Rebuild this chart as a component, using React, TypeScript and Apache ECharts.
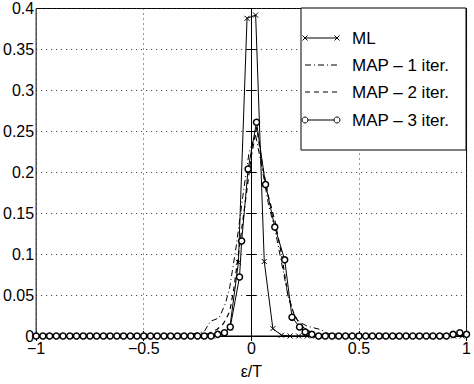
import React, { useEffect, useRef } from "react";
import * as echarts from "echarts";

// ---- data ----
const xTicks = [-1, -0.5, 0, 0.5, 1];
const yTicks = [0, 0.05, 0.1, 0.15, 0.2, 0.25, 0.3, 0.35, 0.4];

const mlData: [number, number][] = [
  [-0.98, 0], [-0.94, 0], [-0.9, 0], [-0.86, 0], [-0.82, 0], [-0.78, 0], [-0.74, 0], [-0.7, 0],
  [-0.66, 0], [-0.62, 0], [-0.58, 0], [-0.54, 0], [-0.5, 0], [-0.46, 0], [-0.42, 0], [-0.38, 0],
  [-0.34, 0], [-0.3, 0], [-0.26, 0], [-0.22, 0], [-0.18, 0], [-0.14, 0.002], [-0.1, 0.01],
  [-0.06, 0.09], [-0.02, 0.388], [0.02, 0.392], [0.06, 0.091], [0.1, 0.009], [0.14, 0.001],
  [0.18, 0], [0.22, 0], [0.26, 0], [0.3, 0], [0.34, 0], [0.38, 0], [0.42, 0], [0.46, 0], [0.5, 0],
  [0.54, 0], [0.58, 0], [0.62, 0], [0.66, 0], [0.7, 0], [0.74, 0], [0.78, 0], [0.82, 0], [0.86, 0],
  [0.9, 0], [0.94, 0], [0.98, 0],
];

const map1Data: [number, number][] = [
  [-1, 0], [-0.3125, 0], [-0.28, 0.002], [-0.25, 0.004], [-0.22, 0.005], [-0.19, 0.018],
  [-0.15, 0.022], [-0.12, 0.04], [-0.1, 0.06], [-0.07, 0.11], [-0.04, 0.17], [-0.01, 0.225],
  [0.02, 0.245], [0.05, 0.205], [0.08, 0.16], [0.11, 0.13], [0.14, 0.09], [0.17, 0.05],
  [0.2, 0.025], [0.23, 0.016], [0.26, 0.012], [0.29, 0.01], [0.32, 0.008], [0.35, 0.004],
  [0.38, 0.001], [0.41, 0], [0.9, 0], [0.95, 0.003], [1, 0.004],
];

const map2Data: [number, number][] = [
  [-1, 0], [-0.25, 0], [-0.2, 0.003], [-0.16, 0.008], [-0.13, 0.015], [-0.1, 0.03],
  [-0.08, 0.06], [-0.06, 0.1], [-0.03, 0.16], [0, 0.22], [0.025, 0.255], [0.05, 0.21],
  [0.08, 0.17], [0.11, 0.14], [0.14, 0.1], [0.17, 0.05], [0.2, 0.025], [0.23, 0.013],
  [0.26, 0.007], [0.29, 0.003], [0.32, 0], [0.92, 0], [0.96, 0.003], [1, 0.002],
];

const map3Data: [number, number][] = [
  [-1, 0], [-0.96875, 0], [-0.9375, 0], [-0.90625, 0], [-0.875, 0], [-0.84375, 0], [-0.8125, 0],
  [-0.78125, 0], [-0.75, 0], [-0.71875, 0], [-0.6875, 0], [-0.65625, 0], [-0.625, 0],
  [-0.59375, 0], [-0.5625, 0], [-0.53125, 0], [-0.5, 0], [-0.46875, 0], [-0.4375, 0],
  [-0.40625, 0], [-0.375, 0], [-0.34375, 0], [-0.3125, 0], [-0.28125, 0], [-0.25, 0],
  [-0.21875, 0], [-0.1875, 0], [-0.15625, 0.002], [-0.125, 0.004], [-0.098, 0.011],
  [-0.055, 0.072], [-0.045, 0.116], [-0.015, 0.204], [0.024, 0.261], [0.066, 0.185],
  [0.109, 0.133], [0.155, 0.093], [0.189, 0.023], [0.224, 0.011], [0.25, 0.005],
  [0.28125, 0.002], [0.3125, 0], [0.34375, 0], [0.375, 0], [0.40625, 0], [0.4375, 0],
  [0.46875, 0], [0.5, 0], [0.53125, 0], [0.5625, 0], [0.59375, 0], [0.625, 0], [0.65625, 0],
  [0.6875, 0], [0.71875, 0], [0.75, 0], [0.78125, 0], [0.8125, 0], [0.84375, 0], [0.875, 0],
  [0.90625, 0], [0.9375, 0.002], [0.96875, 0.004], [1, 0.002],
];

const legendLabels = ["ML", "MAP \u2013 1 iter.", "MAP \u2013 2 iter.", "MAP \u2013 3 iter."];

const FONT = '"Liberation Sans", Arial, Helvetica, sans-serif';
const xSym = "path://M0,0L10,10M10,0L0,10";

export default function App() {
  const ref = useRef<HTMLDivElement>(null);
  useEffect(() => {
    if (!ref.current) return;
    const chart = echarts.init(ref.current, undefined, { renderer: "svg" });

    const rows = [38, 65, 92, 120];
    const lx0 = 305, lx1 = 337, tx = 352;
    const legendEls: any[] = [
      {
        type: "rect", z: 100,
        shape: { x: 301, y: 8, width: 165, height: 142 },
        style: { fill: "#fff", stroke: "#000", lineWidth: 1 },
      },
    ];
    const dashes: any[] = [null, [6, 3, 1, 3], [5, 4], null];
    rows.forEach((ry, i) => {
      legendEls.push({
        type: "line", z: 101,
        shape: { x1: lx0, y1: ry, x2: lx1, y2: ry },
        style: { stroke: "#000", lineWidth: 1, lineDash: dashes[i] || undefined },
      });
      legendEls.push({
        type: "text", z: 101,
        style: { text: legendLabels[i], x: tx, y: ry, font: `17px ${FONT}`, fill: "#000", verticalAlign: "middle" },
      });
    });
    [lx0, lx1].forEach((cx) => {
      legendEls.push({ type: "line", z: 102, shape: { x1: cx - 2.5, y1: rows[0] - 2.5, x2: cx + 2.5, y2: rows[0] + 2.5 }, style: { stroke: "#000", lineWidth: 1 } });
      legendEls.push({ type: "line", z: 102, shape: { x1: cx - 2.5, y1: rows[0] + 2.5, x2: cx + 2.5, y2: rows[0] - 2.5 }, style: { stroke: "#000", lineWidth: 1 } });
      legendEls.push({ type: "circle", z: 102, shape: { cx, cy: rows[3], r: 3 }, style: { fill: "#fff", stroke: "#000", lineWidth: 1 } });
    });

    const splitStyle = { show: true, lineStyle: { color: "#333", type: [1, 4] as any, width: 1 } };
    const labelStyle = { color: "#000", fontSize: 16, fontFamily: FONT };

    chart.setOption({
      animation: false,
      grid: { left: 36, right: 4, top: 6, bottom: 37, show: true, borderColor: "#000", borderWidth: 1, backgroundColor: "#fff" },
      xAxis: [
        {
          type: "value", min: xTicks[0], max: xTicks[xTicks.length - 1], interval: 0.5,
          axisLine: { show: true, lineStyle: { color: "#000" } },
          axisTick: { show: true, inside: true, length: 5, lineStyle: { color: "#000" } },
          axisLabel: { ...labelStyle, margin: 6, lineHeight: 13, formatter: (v: number) => (v < 0 ? "\u2212" : "") + String(Math.abs(v)) },
          splitLine: splitStyle,
          name: "\u03b5/T", nameLocation: "middle", nameGap: 27,
          nameTextStyle: { color: "#000", fontSize: 16, fontFamily: FONT },
        },
        {
          type: "value", position: "top", min: -1, max: 1, interval: 0.5,
          axisLine: { show: true, lineStyle: { color: "#000" } },
          axisTick: { show: true, inside: true, length: 5, lineStyle: { color: "#000" } },
          axisLabel: { show: false }, splitLine: { show: false },
        },
      ],
      yAxis: [
        {
          type: "value", min: yTicks[0], max: yTicks[yTicks.length - 1], interval: 0.05,
          axisLine: { show: true, lineStyle: { color: "#000" } },
          axisTick: { show: true, inside: true, length: 5, lineStyle: { color: "#000" } },
          axisLabel: { ...labelStyle, margin: 2, lineHeight: 12, padding: [0, 0, 5, 0], formatter: (v: number) => String(Number(v.toFixed(2))) },
          splitLine: splitStyle,
        },
        {
          type: "value", position: "right", min: 0, max: 0.4, interval: 0.05,
          axisLine: { show: true, lineStyle: { color: "#000" } },
          axisTick: { show: true, inside: true, length: 5, lineStyle: { color: "#000" } },
          axisLabel: { show: false }, splitLine: { show: false },
        },
      ],
      series: [
        {
          name: legendLabels[0], type: "line", data: mlData, symbol: xSym, symbolSize: 5,
          showAllSymbol: true,
          lineStyle: { color: "#000", width: 1 },
          itemStyle: { color: "none", borderColor: "#000", borderWidth: 1 },
        },
        {
          name: legendLabels[1], type: "line", data: map1Data, symbol: "none",
          lineStyle: { color: "#000", width: 1, type: [6, 3, 1, 3] },
        },
        {
          name: legendLabels[2], type: "line", data: map2Data, symbol: "none",
          lineStyle: { color: "#000", width: 1.2, type: [5, 4] },
        },
        {
          name: legendLabels[3], type: "line", data: map3Data, symbol: "circle", symbolSize: 6,
          showAllSymbol: true,
          lineStyle: { color: "#000", width: 1 },
          itemStyle: { color: "#fff", borderColor: "#000", borderWidth: 1.5 },
        },
      ],
      graphic: legendEls,
    });
    return () => chart.dispose();
  }, []);
  return <div ref={ref} style={{ width: 474, height: 384, position: "absolute", left: 0, top: 0, background: "#fff" }} />;
}
